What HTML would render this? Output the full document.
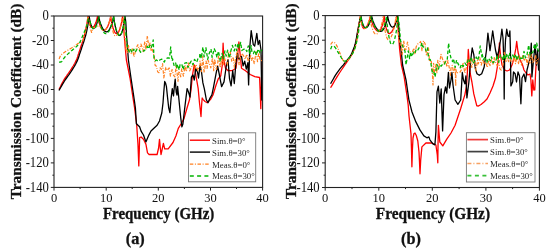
<!DOCTYPE html>
<html><head><meta charset="utf-8"><style>
html,body{margin:0;padding:0;background:#fff;}
svg{display:block;}
text{font-family:"Liberation Serif","Times New Roman",serif;fill:#111;}
.b{font-weight:bold;stroke:#111;stroke-width:0.3px;}
</style></head><body>
<svg width="550" height="251" viewBox="0 0 550 251">
<rect width="550" height="251" fill="#fff"/>

<clipPath id="ca"><rect x="54.0" y="16.0" width="208.60000000000002" height="171.4"/></clipPath>
<g clip-path="url(#ca)" fill="none" stroke-linejoin="round">
<polyline points="59.0,89.5 59.6,88.2 60.5,86.5 61.5,84.4 62.6,82.3 63.6,80.5 64.5,78.9 65.5,77.5 66.5,76.1 67.4,74.7 68.4,73.3 69.4,71.8 70.4,70.4 71.4,68.9 72.3,67.4 73.2,66.0 74.0,64.6 74.8,63.2 75.5,61.8 76.2,60.4 76.8,59.0 77.3,57.6 77.8,56.2 78.2,54.8 78.7,53.4 79.1,52.0 79.6,50.6 80.1,49.1 80.5,47.7 81.0,46.2 81.5,44.8 82.0,43.4 82.4,42.1 82.9,40.7 83.3,39.4 83.7,38.0 84.1,36.6 84.5,35.3 84.8,33.9 85.2,32.5 85.5,31.0 85.8,29.3 86.2,27.5 86.5,25.7 86.8,24.1 87.0,23.0 88.0,16.3 88.5,19.6 89.0,21.7 89.5,23.5 90.0,24.9 90.5,26.1 91.0,26.9 91.5,27.3 92.0,27.5 92.7,27.3 93.4,26.9 94.1,26.1 94.8,24.9 95.4,23.5 96.1,21.7 96.8,19.6 97.5,16.3 98.3,20.4 99.2,23.0 100.0,25.2 100.8,26.9 101.6,28.3 102.4,29.3 103.3,29.9 104.1,30.1 104.9,29.9 105.8,29.3 106.6,28.3 107.4,26.9 108.2,25.2 109.0,23.0 109.9,20.4 110.7,16.3 111.4,21.4 112.2,24.8 112.9,27.5 113.7,29.7 114.4,31.5 115.1,32.7 115.9,33.4 116.6,33.7 117.3,33.4 118.1,32.7 118.8,31.5 119.6,29.7 120.3,27.5 121.1,24.8 121.8,21.4 122.6,16.3 123.4,22.0 124.2,35.0 125.2,47.0 126.4,60.0 130.0,78.0 133.0,98.0 134.6,108.0 136.7,125.0 138.0,145.0 138.8,165.9 139.3,150.0 139.6,137.7 141.1,137.0 143.5,139.3 145.9,144.1 147.5,152.9 149.1,154.5 157.1,154.5 158.6,148.0 159.5,139.3 160.3,148.0 161.0,154.5 162.0,150.0 163.4,143.3 164.7,148.9 168.2,148.9 173.0,142.5 175.9,136.0 178.3,128.4 181.0,124.0 183.9,118.9 187.1,107.7 189.5,99.8 191.0,90.0 192.5,75.0 194.2,64.8 196.0,76.0 198.2,88.7 199.5,103.0 200.3,110.0 201.0,116.5 201.6,105.0 202.2,98.0 203.2,99.6 205.0,101.5 207.2,102.7 210.4,99.6 213.0,95.0 215.9,85.5 218.2,79.0 220.7,75.9 222.3,65.0 223.1,43.2 223.9,60.7 225.5,68.0 228.0,70.7 231.9,70.7 235.9,68.3 237.5,56.0 238.9,42.0 240.2,55.0 241.5,68.3 245.5,70.7 250.2,74.5 254.8,76.6 259.6,77.5 260.3,95.0 260.8,108.7 261.5,80.0 262.4,55.0" stroke="#ff0000" stroke-width="1.3"/>
<polyline points="59.0,90.5 59.7,89.2 60.7,87.5 61.9,85.4 63.1,83.3 64.2,81.5 65.2,79.9 66.2,78.5 67.2,77.1 68.2,75.7 69.2,74.3 70.2,72.8 71.2,71.4 72.2,69.9 73.1,68.4 74.0,67.0 74.8,65.6 75.6,64.2 76.3,62.8 77.0,61.4 77.6,60.0 78.2,58.6 78.6,57.2 79.1,55.8 79.5,54.4 80.0,53.0 80.5,51.6 81.0,50.1 81.5,48.7 81.9,47.2 82.4,45.8 82.9,44.4 83.3,43.1 83.8,41.7 84.2,40.4 84.6,39.0 85.0,37.6 85.4,36.3 85.8,35.0 86.1,33.5 86.5,32.0 86.9,30.2 87.3,28.1 87.7,26.0 88.0,24.3 88.2,23.0 89.2,16.3 89.7,19.8 90.2,22.1 90.7,24.0 91.2,25.6 91.8,26.7 92.3,27.6 92.8,28.1 93.3,28.3 94.0,28.1 94.7,27.6 95.3,26.7 96.0,25.6 96.7,24.0 97.3,22.1 98.0,19.8 98.7,16.3 99.7,20.9 100.7,23.9 101.6,26.3 102.6,28.3 103.6,29.9 104.5,31.0 105.5,31.7 106.5,31.9 107.4,31.7 108.3,31.0 109.2,29.9 110.0,28.3 110.9,26.3 111.8,23.9 112.7,20.9 113.6,16.3 114.3,21.9 115.1,25.6 115.8,28.7 116.6,31.1 117.3,33.0 118.1,34.4 118.8,35.2 119.6,35.5 120.3,35.2 120.9,34.4 121.6,33.0 122.3,31.1 123.0,28.7 123.7,25.6 124.3,21.9 125.0,16.3 125.8,22.0 126.5,35.0 127.5,48.0 128.4,60.0 131.0,78.0 134.3,100.0 135.4,108.0 136.4,123.7 139.6,126.8 141.1,131.1 143.5,135.0 145.9,141.9 148.0,137.0 149.1,134.6 151.0,131.0 153.9,128.2 157.1,125.3 159.5,121.0 161.8,113.0 163.0,103.0 163.8,92.0 164.7,81.5 165.5,83.0 166.4,86.3 167.5,97.0 168.7,107.8 169.9,112.6 171.1,98.3 172.3,88.7 173.5,95.9 174.5,85.0 175.2,79.2 176.2,92.0 177.0,95.0 177.6,86.3 178.5,95.0 180.7,117.3 181.9,126.9 182.9,124.0 184.5,110.0 187.1,88.6 188.5,92.0 190.0,97.1 191.4,77.1 193.0,75.0 194.3,80.0 195.7,68.6 197.5,72.0 198.5,78.0 200.0,65.7 201.5,72.0 202.9,82.9 204.3,88.6 206.4,100.0 208.0,102.7 210.0,98.0 211.9,94.8 213.6,86.7 216.0,73.9 217.6,66.0 219.2,73.9 221.6,86.7 224.0,81.9 226.3,66.0 228.0,59.6 229.5,78.7 231.1,85.9 232.7,70.7 234.3,83.5 235.9,62.7 237.5,53.2 239.1,59.6 241.5,56.4 243.1,65.9 244.7,61.2 246.3,69.1 247.9,62.7 248.6,84.9 249.8,47.3 251.2,30.6 253.3,44.6 254.7,46.0 256.8,33.4 258.2,44.6 259.6,40.4 261.0,50.0 261.8,100.0 262.4,70.0" stroke="#000" stroke-width="1.3"/>
<polyline points="59.0,59.1 59.3,58.5 59.6,57.7 60.0,56.7 60.6,55.8 61.2,54.9 62.0,54.1 62.9,53.4 63.9,52.7 64.9,52.0 66.0,51.3 67.1,50.6 68.3,49.9 69.5,49.2 70.7,48.5 71.9,47.8 73.1,47.0 74.4,46.1 75.6,45.2 76.8,44.4 77.9,43.6 79.0,43.0 80.0,42.5 81.0,42.0 81.9,41.4 82.7,40.6 83.3,39.5 83.8,38.2 84.2,36.7 84.6,35.1 85.0,33.5 85.5,31.6 85.9,29.4 86.4,27.2 86.7,25.3 87.0,24.0 88.0,17.2 89.2,20.0 90.2,28.0 91.6,32.5 93.0,28.0 99.7,25.5 100.5,27.3 101.4,28.8 102.2,29.8 103.0,30.4 103.8,30.6 104.6,30.4 105.5,29.8 106.3,28.8 107.2,27.3 108.0,25.5 108.8,23.3 109.7,20.5 110.5,16.3 111.1,22.1 111.7,25.9 112.3,29.0 113.0,31.5 113.6,33.5 114.2,34.9 114.8,35.7 115.4,36.0 116.3,35.7 117.2,34.9 118.1,33.5 119.0,31.5 119.8,29.0 120.7,25.9 121.6,22.1 122.5,16.3 123.5,20.0 124.2,28.0 125.0,40.0 126.0,50.0 126.0,47.0 127.3,52.6 128.5,44.9 129.7,52.6 131.4,53.5 132.4,48.3 134.0,56.9 135.3,51.8 137.0,46.4 137.9,44.7 139.5,50.5 140.9,44.0 142.2,47.5 143.2,51.7 144.8,41.5 146.0,49.8 147.3,35.9 148.8,46.5 150.0,43.0 151.3,51.4 152.1,48.5 154.3,56.6 155.1,65.2 156.4,66.2 157.6,71.7 159.0,72.7 160.1,67.8 161.4,69.4 162.6,63.7 163.8,77.9 165.8,67.3 167.2,70.3 169.2,68.0 170.4,76.1 172.1,69.5 173.5,75.1 174.9,76.9 176.2,65.0 178.0,81.3 179.0,71.1 180.7,76.8 181.7,68.9 183.4,76.1 185.1,65.6 186.3,71.6 188.3,62.0 189.8,70.8 191.1,67.9 193.1,64.3 194.5,69.9 196.0,64.5 197.8,70.6 198.7,68.0 200.0,66.0 200.0,61.0 201.4,71.7 202.8,56.3 204.1,72.7 206.1,61.0 207.1,68.4 208.1,60.3 209.6,64.5 210.8,67.9 212.5,57.8 213.7,70.6 214.6,59.2 216.4,69.3 217.4,66.5 218.4,56.0 220.3,67.7 221.7,57.8 223.1,65.5 224.5,57.8 225.7,62.6 227.4,64.9 228.6,52.3 230.2,51.2 231.7,61.1 233.2,56.9 234.4,67.5 235.9,56.2 237.5,51.1 239.1,64.7 240.7,56.0 242.0,53.5 243.4,55.6 245.3,59.3 246.7,54.3 248.3,61.3 249.0,60.5 250.7,55.5 251.6,60.5 252.8,56.9 254.2,63.7 256.2,51.8 257.5,61.6 258.8,52.8 259.8,59.0 261.3,60.6 262.6,58.0" stroke="#ff8020" stroke-width="1.2" stroke-dasharray="3.5 1.5 1 1.5"/>
<polyline points="59.0,62.1 59.4,62.1 59.9,62.1 60.5,62.0 61.2,61.9 61.8,61.5 62.3,60.9 62.9,60.1 63.4,59.2 64.0,58.2 64.7,57.3 65.5,56.4 66.5,55.4 67.5,54.4 68.5,53.4 69.5,52.5 70.5,51.6 71.4,50.8 72.4,50.1 73.3,49.3 74.3,48.4 75.3,47.5 76.3,46.7 77.3,45.8 78.2,44.8 79.1,43.6 79.9,42.2 80.7,40.6 81.4,38.9 82.1,37.2 82.8,35.5 83.6,33.7 84.4,31.8 85.2,29.9 85.9,28.2 86.4,27.1 88.3,19.0 89.8,20.0 90.3,22.5 90.9,24.5 91.5,26.1 92.1,27.4 92.7,28.3 93.2,28.8 93.8,29.0 94.4,28.8 95.0,28.3 95.6,27.4 96.2,26.1 96.9,24.5 97.5,22.5 98.1,20.0 98.7,16.3 99.6,21.4 100.5,24.8 101.4,27.5 102.3,29.7 103.2,31.5 104.1,32.7 105.0,33.4 105.9,33.7 106.9,33.4 107.8,32.7 108.8,31.5 109.8,29.7 110.7,27.5 111.7,24.8 112.6,21.4 113.6,16.3 114.4,21.9 115.1,25.6 115.9,28.7 116.7,31.1 117.5,33.0 118.2,34.4 119.0,35.2 119.8,35.5 120.4,35.2 121.0,34.4 121.6,33.0 122.2,31.1 122.8,28.7 123.4,25.6 124.0,21.9 124.6,16.3 125.3,25.0 126.1,37.0 127.0,45.0 127.8,48.9 127.6,48.8 129.4,51.9 130.6,49.6 132.1,52.7 133.8,49.2 135.2,52.2 137.1,49.2 139.1,49.6 140.5,52.3 142.5,50.3 143.9,51.2 146.0,48.7 147.4,46.3 148.6,49.0 150.0,45.1 151.3,47.4 152.5,44.0 153.2,40.0 154.0,58.1 154.2,58.6 155.2,60.8 156.5,59.9 158.1,61.5 159.8,60.0 161.3,59.2 162.9,59.4 164.3,62.1 165.7,59.0 167.6,57.9 169.5,58.0 170.7,47.0 171.5,56.0 172.3,61.0 172.6,58.9 174.0,65.4 175.7,63.0 176.6,68.3 177.7,64.5 179.2,69.9 180.1,64.3 181.8,64.1 183.2,69.7 184.8,63.2 186.6,62.6 188.0,67.4 189.5,63.8 191.2,61.1 193.0,64.7 194.5,59.3 196.7,62.3 198.0,58.5 199.6,58.0 199.9,53.3 201.3,58.4 202.9,47.0 204.1,56.8 205.9,47.7 207.7,59.3 209.0,54.1 211.0,49.1 212.1,57.3 214.2,48.7 215.8,52.1 216.9,57.5 218.5,51.1 220.3,61.5 222.0,53.3 223.4,58.7 224.9,50.8 226.2,56.0 227.6,50.2 229.4,58.0 230.8,51.2 232.4,45.4 234.2,51.0 235.5,44.7 236.6,50.7 238.1,43.2 239.0,47.9 240.7,42.3 241.8,50.5 243.7,49.3 245.4,48.5 246.8,51.5 248.3,45.8 249.7,54.5 251.2,45.6 252.0,52.8 253.4,53.6 254.9,50.2 256.3,55.2 258.2,48.9 260.1,53.2 261.5,50.2 262.6,51.0" stroke="#00b400" stroke-width="1.3" stroke-dasharray="3.5 2.2"/>
</g>
<rect x="54.0" y="16.0" width="208.6" height="171.4" fill="none" stroke="#222" stroke-width="1.1"/>
<line x1="50.8" y1="16.0" x2="54.0" y2="16.0" stroke="#222" stroke-width="1"/>
<text transform="translate(48.9,20.3) scale(1,1.08)" font-size="12.7" text-anchor="end">0</text>
<line x1="52.4" y1="28.2" x2="54.0" y2="28.2" stroke="#222" stroke-width="1"/>
<line x1="50.8" y1="40.5" x2="54.0" y2="40.5" stroke="#222" stroke-width="1"/>
<text transform="translate(48.9,44.8) scale(1,1.08)" font-size="12.7" text-anchor="end">-20</text>
<line x1="52.4" y1="52.7" x2="54.0" y2="52.7" stroke="#222" stroke-width="1"/>
<line x1="50.8" y1="65.0" x2="54.0" y2="65.0" stroke="#222" stroke-width="1"/>
<text transform="translate(48.9,69.3) scale(1,1.08)" font-size="12.7" text-anchor="end">-40</text>
<line x1="52.4" y1="77.2" x2="54.0" y2="77.2" stroke="#222" stroke-width="1"/>
<line x1="50.8" y1="89.5" x2="54.0" y2="89.5" stroke="#222" stroke-width="1"/>
<text transform="translate(48.9,93.8) scale(1,1.08)" font-size="12.7" text-anchor="end">-60</text>
<line x1="52.4" y1="101.7" x2="54.0" y2="101.7" stroke="#222" stroke-width="1"/>
<line x1="50.8" y1="113.9" x2="54.0" y2="113.9" stroke="#222" stroke-width="1"/>
<text transform="translate(48.9,118.2) scale(1,1.08)" font-size="12.7" text-anchor="end">-80</text>
<line x1="52.4" y1="126.2" x2="54.0" y2="126.2" stroke="#222" stroke-width="1"/>
<line x1="50.8" y1="138.4" x2="54.0" y2="138.4" stroke="#222" stroke-width="1"/>
<text transform="translate(48.9,142.7) scale(1,1.08)" font-size="12.7" text-anchor="end">-100</text>
<line x1="52.4" y1="150.7" x2="54.0" y2="150.7" stroke="#222" stroke-width="1"/>
<line x1="50.8" y1="162.9" x2="54.0" y2="162.9" stroke="#222" stroke-width="1"/>
<text transform="translate(48.9,167.2) scale(1,1.08)" font-size="12.7" text-anchor="end">-120</text>
<line x1="52.4" y1="175.2" x2="54.0" y2="175.2" stroke="#222" stroke-width="1"/>
<line x1="50.8" y1="187.4" x2="54.0" y2="187.4" stroke="#222" stroke-width="1"/>
<text transform="translate(48.9,191.7) scale(1,1.08)" font-size="12.7" text-anchor="end">-140</text>
<line x1="54.0" y1="187.4" x2="54.0" y2="190.6" stroke="#222" stroke-width="1"/>
<text transform="translate(54.0,201.9) scale(1,1.08)" font-size="12.5" text-anchor="middle">0</text>
<line x1="80.1" y1="187.4" x2="80.1" y2="189.0" stroke="#222" stroke-width="1"/>
<line x1="106.2" y1="187.4" x2="106.2" y2="190.6" stroke="#222" stroke-width="1"/>
<text transform="translate(106.2,201.9) scale(1,1.08)" font-size="12.5" text-anchor="middle">10</text>
<line x1="132.2" y1="187.4" x2="132.2" y2="189.0" stroke="#222" stroke-width="1"/>
<line x1="158.3" y1="187.4" x2="158.3" y2="190.6" stroke="#222" stroke-width="1"/>
<text transform="translate(158.3,201.9) scale(1,1.08)" font-size="12.5" text-anchor="middle">20</text>
<line x1="184.4" y1="187.4" x2="184.4" y2="189.0" stroke="#222" stroke-width="1"/>
<line x1="210.5" y1="187.4" x2="210.5" y2="190.6" stroke="#222" stroke-width="1"/>
<text transform="translate(210.5,201.9) scale(1,1.08)" font-size="12.5" text-anchor="middle">30</text>
<line x1="236.5" y1="187.4" x2="236.5" y2="189.0" stroke="#222" stroke-width="1"/>
<line x1="262.6" y1="187.4" x2="262.6" y2="190.6" stroke="#222" stroke-width="1"/>
<text transform="translate(262.6,201.9) scale(1,1.08)" font-size="12.5" text-anchor="middle">40</text>
<clipPath id="cb"><rect x="325.2" y="15.6" width="214.2" height="171.9"/></clipPath>
<g clip-path="url(#cb)" fill="none" stroke-linejoin="round">
<polyline points="330.6,87.8 331.4,86.3 332.6,84.3 334.0,81.9 335.5,79.3 337.0,76.9 338.5,74.5 340.1,72.0 341.8,69.5 343.4,67.1 344.9,64.9 346.3,62.9 347.5,61.2 348.7,59.5 349.9,57.8 350.9,56.0 351.9,54.0 352.7,52.0 353.5,49.9 354.3,47.9 354.9,46.0 355.4,44.4 355.8,43.0 356.1,41.6 356.5,40.1 356.8,38.3 357.2,36.0 357.6,33.2 358.0,30.4 358.4,28.0 358.6,26.3 360.4,16.3 360.8,19.9 361.3,22.3 361.8,24.2 362.2,25.8 362.6,27.0 363.1,27.9 363.6,28.4 364.0,28.6 364.8,28.4 365.6,27.9 366.4,27.0 367.1,25.8 367.9,24.2 368.7,22.3 369.5,19.9 370.3,16.3 371.4,20.7 372.4,23.6 373.4,26.0 374.5,27.9 375.6,29.4 376.6,30.5 377.6,31.2 378.7,31.4 379.4,31.2 380.1,30.5 380.8,29.4 381.4,27.9 382.1,26.0 382.8,23.6 383.5,20.7 384.2,16.3 384.8,21.3 385.4,24.7 386.0,27.4 386.6,29.6 387.3,31.3 387.9,32.5 388.5,33.3 389.1,33.5 390.1,33.3 391.0,32.5 392.0,31.3 393.0,29.6 393.9,27.4 394.9,24.7 395.8,21.3 396.8,16.3 397.8,25.0 398.8,38.0 399.6,49.0 401.4,65.0 404.0,76.0 407.0,95.9 408.2,105.0 409.0,116.0 410.0,125.0 411.0,133.9 411.5,150.0 411.9,166.8 412.4,150.0 413.0,138.0 414.0,133.5 415.0,133.0 416.3,135.5 417.8,141.0 419.0,152.0 419.5,162.0 420.0,173.8 420.7,160.0 421.9,146.9 425.9,143.0 431.9,143.0 435.9,145.0 437.3,155.0 437.8,162.8 438.1,140.0 438.4,125.3 439.8,142.0 442.8,145.9 446.8,139.2 451.0,133.0 455.1,125.3 460.7,108.5 464.9,94.6 466.5,86.0 467.5,70.0 468.3,49.5 469.2,62.0 470.3,74.0 471.9,82.0 473.8,93.9 476.8,105.9 478.5,106.0 481.0,104.5 484.0,102.0 487.0,99.0 490.0,93.0 493.0,86.0 495.5,78.0 497.5,66.0 498.7,55.0 499.4,43.0 500.5,55.0 502.0,65.0 504.8,70.0 507.0,71.0 509.6,70.0 512.0,65.0 514.0,58.0 515.9,48.2 516.7,41.5 518.0,52.0 520.0,60.0 522.3,64.1 524.0,70.0 526.0,73.0 528.0,75.0 530.0,74.0 530.9,80.0 531.8,95.9 532.8,80.0 533.8,90.0 534.8,89.9 535.5,75.0 536.7,54.6 538.0,60.0 539.4,58.0" stroke="#ff0000" stroke-width="1.3"/>
<polyline points="330.6,83.8 331.4,82.3 332.6,80.2 334.0,77.7 335.5,75.2 337.0,72.9 338.5,70.8 340.1,68.7 341.8,66.7 343.4,64.8 344.9,62.9 346.3,61.2 347.5,59.7 348.7,58.2 349.9,56.7 350.9,55.0 351.9,53.1 352.7,51.1 353.5,49.0 354.3,47.0 354.9,45.0 355.4,43.2 355.8,41.4 356.1,39.6 356.5,37.8 356.8,36.0 357.2,34.0 357.5,31.9 357.9,29.8 358.3,27.8 358.6,26.0 358.9,24.3 359.3,22.6 359.6,21.2 359.8,19.9 360.0,19.0 361.0,16.3 361.6,19.7 362.1,21.9 362.6,23.8 363.2,25.2 363.8,26.4 364.3,27.2 364.8,27.7 365.4,27.9 366.2,27.7 367.0,27.2 367.8,26.4 368.5,25.2 369.3,23.8 370.1,21.9 370.9,19.7 371.7,16.3 372.8,20.7 374.0,23.6 375.1,26.0 376.2,27.9 377.4,29.4 378.5,30.5 379.7,31.2 380.8,31.4 381.7,31.2 382.5,30.5 383.4,29.4 384.2,27.9 385.1,26.0 386.0,23.6 386.8,20.7 387.7,16.3 388.3,19.5 388.9,21.6 389.5,23.3 390.1,24.7 390.8,25.8 391.4,26.6 392.0,27.0 392.6,27.2 393.2,27.0 393.8,26.6 394.4,25.8 395.1,24.7 395.7,23.3 396.3,21.6 396.9,19.5 397.5,16.3 398.7,26.3 399.9,42.0 401.0,49.0 402.6,65.0 406.0,79.9 408.9,99.8 412.0,112.0 415.9,121.9 419.9,129.9 423.9,135.9 426.9,137.8 428.9,136.9 429.9,139.8 432.9,143.8 434.9,144.8 435.9,131.9 437.0,91.8 438.4,86.2 439.8,103.0 441.2,89.0 442.6,130.9 444.0,94.6 445.5,87.0 446.8,93.0 448.4,72.5 449.5,88.0 451.0,80.0 451.9,72.5 453.0,85.0 455.1,100.0 457.9,104.3 460.7,100.0 461.6,85.0 462.3,72.5 463.5,80.0 464.9,83.9 465.9,76.0 466.9,97.9 468.9,82.0 470.5,62.0 472.2,48.0 473.8,54.6 475.4,68.9 477.0,73.7 479.3,75.3 481.7,73.7 484.1,67.3 486.5,50.0 487.9,33.2 489.0,42.0 490.0,50.7 491.5,40.0 492.7,30.8 494.0,40.0 495.5,50.0 497.1,57.0 499.0,50.0 500.8,38.0 501.9,29.2 503.0,38.0 503.8,60.0 504.2,99.0 504.6,60.0 505.5,40.0 506.7,29.2 508.0,36.0 509.1,36.3 509.9,31.0 510.4,50.0 510.9,85.9 512.7,81.7 513.5,72.0 515.1,73.7 516.5,82.0 518.0,72.0 519.5,76.0 520.9,103.8 522.0,78.0 524.0,74.0 525.5,81.7 527.0,70.0 528.5,64.0 530.3,57.7 531.3,43.1 531.9,76.9 533.5,60.0 535.1,44.7 536.5,65.0 537.5,50.0 538.6,70.0 539.4,65.0" stroke="#000" stroke-width="1.3"/>
<polyline points="330.6,44.5 330.9,44.1 331.4,43.4 331.9,42.8 332.4,42.2 333.0,42.0 333.6,42.1 334.2,42.4 334.8,42.9 335.5,43.6 336.1,44.5 336.7,45.6 337.4,46.9 338.0,48.4 338.6,50.0 339.3,51.6 340.0,53.3 340.8,55.2 341.6,57.0 342.3,58.7 342.9,60.0 343.4,60.9 343.8,61.4 344.2,61.7 344.5,61.9 344.9,62.0 345.3,62.0 345.7,61.9 346.1,61.6 346.5,61.3 346.9,61.0 347.3,60.7 347.6,60.5 348.0,60.1 348.4,59.7 348.9,59.0 349.6,58.1 350.4,57.0 351.3,55.7 352.1,54.4 352.9,53.0 353.6,51.5 354.2,50.0 354.8,48.4 355.4,46.7 355.9,45.0 356.3,43.3 356.6,41.6 356.9,39.8 357.2,37.9 357.5,36.0 357.8,33.8 358.2,31.2 358.5,28.7 358.8,26.5 359.0,25.0 360.2,16.3 360.7,19.9 361.3,22.2 361.8,24.2 362.4,25.7 362.9,26.9 363.4,27.8 364.0,28.3 364.5,28.5 365.2,28.3 365.8,27.8 366.5,26.9 367.1,25.7 367.8,24.2 368.5,22.2 369.1,19.9 369.8,16.3 370.6,21.6 371.3,25.0 372.1,27.8 372.9,30.1 373.6,31.9 374.4,33.2 375.1,33.9 375.9,34.2 376.8,33.9 377.8,33.2 378.7,31.9 379.6,30.1 380.5,27.8 381.4,25.0 382.4,21.6 383.3,16.3 383.9,23.2 384.6,27.7 385.2,31.4 385.9,34.4 386.5,36.8 387.1,38.4 387.8,39.5 388.4,39.8 389.3,39.5 390.3,38.4 391.2,36.8 392.2,34.4 393.1,31.4 394.1,27.7 395.1,23.2 396.0,16.3 397.5,25.0 399.0,40.0 401.0,46.0 401.1,42.8 402.1,55.2 403.7,40.5 404.8,49.7 406.1,49.1 407.5,42.2 409.4,51.8 410.8,51.8 412.7,51.3 414.0,48.0 414.9,53.7 416.2,46.7 417.5,44.1 419.1,43.4 420.6,41.5 422.0,50.7 423.5,40.7 425.1,43.8 426.5,56.0 428.5,47.8 429.5,61.5 431.3,61.3 432.5,75.2 433.0,85.0 433.6,63.3 434.6,72.2 436.0,64.3 436.9,73.3 437.8,60.4 439.2,65.9 441.0,54.4 442.6,59.2 444.0,63.9 445.9,60.0 446.8,66.9 447.9,60.5 449.7,70.0 450.5,75.3 451.0,68.2 452.3,65.3 453.5,72.5 455.2,67.5 455.7,86.2 456.0,69.7 456.5,73.1 458.4,72.4 460.1,72.1 461.4,69.8 463.1,63.3 464.8,73.0 466.4,67.3 467.6,57.9 469.3,65.1 470.7,60.3 471.8,67.4 473.5,58.4 474.4,58.5 475.9,71.0 477.5,60.4 478.4,63.8 479.8,57.6 481.3,65.1 482.7,59.5 484.4,64.2 485.6,62.1 487.3,67.4 488.6,60.3 490.0,65.6 491.2,59.5 493.1,65.1 494.1,57.1 495.8,63.0 497.3,66.0 498.3,60.2 499.8,68.7 501.2,70.0 503.1,64.6 504.3,51.5 506.0,61.5 507.3,58.1 508.6,61.6 509.9,57.5 511.4,62.6 512.7,62.6 514.3,55.7 515.5,63.7 517.2,55.7 518.4,64.1 519.8,56.6 521.6,65.1 522.7,54.9 524.2,60.2 525.9,57.1 527.2,64.7 528.6,54.5 529.9,63.1 531.2,53.7 533.0,63.1 533.9,60.7 535.6,55.0 536.7,63.8 538.3,58.0 539.4,59.0" stroke="#ff8020" stroke-width="1.2" stroke-dasharray="3.5 1.5 1 1.5"/>
<polyline points="330.6,49.2 330.8,48.7 331.1,48.0 331.4,47.1 331.8,46.4 332.2,46.0 332.6,45.8 333.1,45.8 333.6,46.0 334.1,46.3 334.6,46.8 335.2,47.5 335.8,48.4 336.4,49.4 337.1,50.5 337.7,51.6 338.3,52.7 339.0,53.8 339.6,54.9 340.3,56.0 340.9,57.0 341.5,58.0 342.1,58.9 342.7,59.8 343.3,60.5 343.9,61.0 344.5,61.2 345.1,61.1 345.6,60.9 346.2,60.5 346.9,60.0 347.6,59.4 348.4,58.7 349.3,57.9 350.1,57.0 350.9,56.0 351.7,54.9 352.4,53.8 353.1,52.6 353.8,51.2 354.5,49.5 355.2,47.5 355.8,45.3 356.4,42.9 357.0,40.5 357.5,38.0 358.0,35.3 358.5,32.3 358.9,29.3 359.2,26.8 359.5,25.0 360.8,16.3 361.4,19.6 361.9,21.7 362.5,23.5 363.1,24.9 363.7,26.1 364.2,26.9 364.8,27.3 365.4,27.5 366.1,27.3 366.9,26.9 367.6,26.1 368.4,24.9 369.1,23.5 369.8,21.7 370.6,19.6 371.3,16.3 372.4,20.8 373.5,23.7 374.6,26.1 375.6,28.0 376.7,29.5 377.8,30.6 378.9,31.3 380.0,31.5 380.8,31.3 381.6,30.6 382.4,29.5 383.2,28.0 384.1,26.1 384.9,23.7 385.7,20.8 386.5,16.3 387.2,24.6 387.9,30.1 388.5,34.5 389.2,38.1 389.9,40.9 390.5,43.0 391.2,44.2 391.9,44.6 392.7,44.2 393.4,43.0 394.2,40.9 394.9,38.1 395.7,34.5 396.5,30.1 397.2,24.6 398.0,16.3 399.2,25.0 400.6,40.9 403.8,48.9 405.0,51.0 406.0,64.9 408.0,53.0 408.3,50.9 409.6,58.7 410.6,51.8 411.7,56.7 413.7,52.0 415.1,53.3 416.3,48.7 417.9,49.8 419.2,47.6 420.9,47.0 421.8,42.8 423.0,47.0 424.9,46.9 426.1,51.1 427.5,47.9 428.7,58.9 430.3,59.6 432.3,72.2 433.6,71.2 435.1,77.0 436.8,64.3 438.5,69.1 439.4,64.9 441.2,66.2 442.5,64.3 444.3,64.8 445.9,60.2 447.3,59.1 448.6,43.2 449.7,52.7 451.0,58.2 452.5,61.6 453.5,58.7 455.1,67.4 456.6,60.2 457.9,63.4 460.2,67.8 461.5,64.0 463.0,66.6 464.9,63.0 466.5,65.4 468.2,59.5 469.4,61.4 471.2,57.2 472.8,63.5 474.5,61.4 476.3,57.0 477.6,60.3 479.0,56.0 480.2,46.0 482.0,57.0 482.1,53.7 483.4,59.9 485.2,56.5 486.6,63.0 488.6,58.1 490.3,60.9 491.5,56.8 492.9,62.7 494.0,61.9 496.0,61.3 497.0,55.2 498.7,62.3 500.3,54.8 501.2,55.4 503.1,60.2 504.1,54.3 505.7,59.3 506.9,53.5 508.9,58.3 509.7,53.4 511.4,58.8 512.8,54.9 514.0,58.6 515.9,54.4 516.9,60.3 518.6,56.0 519.7,58.9 521.1,57.9 522.8,59.7 524.0,51.4 525.4,57.9 527.0,55.0 528.7,45.0 530.0,55.0 533.0,52.0 534.5,44.0 535.5,50.0 536.7,43.1 538.0,50.0 539.4,52.0" stroke="#00b400" stroke-width="1.3" stroke-dasharray="3.5 2.2"/>
</g>
<rect x="325.2" y="15.6" width="214.2" height="171.9" fill="none" stroke="#222" stroke-width="1.1"/>
<line x1="322.0" y1="15.6" x2="325.2" y2="15.6" stroke="#222" stroke-width="1"/>
<text transform="translate(319.7,19.9) scale(1,1.08)" font-size="12.7" text-anchor="end">0</text>
<line x1="323.6" y1="27.9" x2="325.2" y2="27.9" stroke="#222" stroke-width="1"/>
<line x1="322.0" y1="40.2" x2="325.2" y2="40.2" stroke="#222" stroke-width="1"/>
<text transform="translate(319.7,44.5) scale(1,1.08)" font-size="12.7" text-anchor="end">-20</text>
<line x1="323.6" y1="52.4" x2="325.2" y2="52.4" stroke="#222" stroke-width="1"/>
<line x1="322.0" y1="64.7" x2="325.2" y2="64.7" stroke="#222" stroke-width="1"/>
<text transform="translate(319.7,69.0) scale(1,1.08)" font-size="12.7" text-anchor="end">-40</text>
<line x1="323.6" y1="77.0" x2="325.2" y2="77.0" stroke="#222" stroke-width="1"/>
<line x1="322.0" y1="89.3" x2="325.2" y2="89.3" stroke="#222" stroke-width="1"/>
<text transform="translate(319.7,93.6) scale(1,1.08)" font-size="12.7" text-anchor="end">-60</text>
<line x1="323.6" y1="101.5" x2="325.2" y2="101.5" stroke="#222" stroke-width="1"/>
<line x1="322.0" y1="113.8" x2="325.2" y2="113.8" stroke="#222" stroke-width="1"/>
<text transform="translate(319.7,118.1) scale(1,1.08)" font-size="12.7" text-anchor="end">-80</text>
<line x1="323.6" y1="126.1" x2="325.2" y2="126.1" stroke="#222" stroke-width="1"/>
<line x1="322.0" y1="138.4" x2="325.2" y2="138.4" stroke="#222" stroke-width="1"/>
<text transform="translate(319.7,142.7) scale(1,1.08)" font-size="12.7" text-anchor="end">-100</text>
<line x1="323.6" y1="150.7" x2="325.2" y2="150.7" stroke="#222" stroke-width="1"/>
<line x1="322.0" y1="162.9" x2="325.2" y2="162.9" stroke="#222" stroke-width="1"/>
<text transform="translate(319.7,167.2) scale(1,1.08)" font-size="12.7" text-anchor="end">-120</text>
<line x1="323.6" y1="175.2" x2="325.2" y2="175.2" stroke="#222" stroke-width="1"/>
<line x1="322.0" y1="187.5" x2="325.2" y2="187.5" stroke="#222" stroke-width="1"/>
<text transform="translate(319.7,191.8) scale(1,1.08)" font-size="12.7" text-anchor="end">-140</text>
<line x1="325.2" y1="187.5" x2="325.2" y2="190.7" stroke="#222" stroke-width="1"/>
<text transform="translate(325.2,201.9) scale(1,1.08)" font-size="12.5" text-anchor="middle">0</text>
<line x1="352.0" y1="187.5" x2="352.0" y2="189.1" stroke="#222" stroke-width="1"/>
<line x1="378.8" y1="187.5" x2="378.8" y2="190.7" stroke="#222" stroke-width="1"/>
<text transform="translate(378.8,201.9) scale(1,1.08)" font-size="12.5" text-anchor="middle">10</text>
<line x1="405.5" y1="187.5" x2="405.5" y2="189.1" stroke="#222" stroke-width="1"/>
<line x1="432.3" y1="187.5" x2="432.3" y2="190.7" stroke="#222" stroke-width="1"/>
<text transform="translate(432.3,201.9) scale(1,1.08)" font-size="12.5" text-anchor="middle">20</text>
<line x1="459.1" y1="187.5" x2="459.1" y2="189.1" stroke="#222" stroke-width="1"/>
<line x1="485.9" y1="187.5" x2="485.9" y2="190.7" stroke="#222" stroke-width="1"/>
<text transform="translate(485.9,201.9) scale(1,1.08)" font-size="12.5" text-anchor="middle">30</text>
<line x1="512.6" y1="187.5" x2="512.6" y2="189.1" stroke="#222" stroke-width="1"/>
<line x1="539.4" y1="187.5" x2="539.4" y2="190.7" stroke="#222" stroke-width="1"/>
<text transform="translate(539.4,201.9) scale(1,1.08)" font-size="12.5" text-anchor="middle">40</text>
<text class="b" font-size="15.35" text-anchor="middle" transform="translate(20.8,101.45) rotate(-90) scale(1,0.98)">Transmission Coefficient (dB)</text>
<text class="b" font-size="15.35" text-anchor="middle" transform="translate(295.8,101.2) rotate(-90)">Transmission Coefficient (dB)</text>
<text class="b" font-size="14.95" text-anchor="middle" transform="translate(158.6,219.2) scale(1,1.08)">Frequency (GHz)</text>
<text class="b" font-size="15.35" text-anchor="middle" transform="translate(432.9,219.0) scale(1,1.06)">Frequency (GHz)</text>
<text class="b" font-size="16.3" text-anchor="middle" transform="translate(135.3,244.2) scale(1,1.06)">(a)</text>
<text class="b" font-size="16.3" text-anchor="middle" transform="translate(411,244.2) scale(1,1.06)">(b)</text>
<rect x="188.5" y="132.8" width="67.2" height="49.0" fill="#fff" stroke="#777" stroke-width="0.9"/>
<line x1="189.8" y1="140.2" x2="210" y2="140.2" stroke="#ff0000" stroke-width="1.4"/>
<text x="212" y="143.6" font-size="8.8" style="fill:#2a2a2a">Sim.θ=0°</text>
<line x1="189.8" y1="152.1" x2="210" y2="152.1" stroke="#000" stroke-width="1.4"/>
<text x="212" y="155.5" font-size="8.8" style="fill:#2a2a2a">Sim.θ=30°</text>
<line x1="189.8" y1="164.1" x2="210" y2="164.1" stroke="#ff8020" stroke-width="1.3" stroke-dasharray="3.5 1.6 1 1.6"/>
<text x="212" y="167.5" font-size="8.8" style="fill:#2a2a2a">Meas.θ=0°</text>
<line x1="189.8" y1="176.0" x2="210" y2="176.0" stroke="#00b400" stroke-width="1.4" stroke-dasharray="4 3.3"/>
<text x="212" y="179.4" font-size="8.8" style="fill:#2a2a2a">Meas.θ=30°</text>
<rect x="466.4" y="132.7" width="68.6" height="49.3" fill="#fff" stroke="#777" stroke-width="0.9"/>
<line x1="467.4" y1="139.6" x2="488" y2="139.6" stroke="#f03838" stroke-width="1.7"/>
<text x="490" y="143" font-size="8.8" style="fill:#2a2a2a">Sim.θ=0°</text>
<line x1="467.4" y1="151.6" x2="488" y2="151.6" stroke="#404040" stroke-width="1.7"/>
<text x="490" y="155" font-size="8.8" style="fill:#2a2a2a">Sim.θ=30°</text>
<line x1="467.4" y1="163.6" x2="488" y2="163.6" stroke="#f7a060" stroke-width="1.5" stroke-dasharray="4 2 1 2"/>
<text x="490" y="167" font-size="8.8" style="fill:#2a2a2a">Meas.θ=0°</text>
<line x1="467.4" y1="175.6" x2="488" y2="175.6" stroke="#38c038" stroke-width="1.6" stroke-dasharray="4 3.5"/>
<text x="490" y="179" font-size="8.8" style="fill:#2a2a2a">Meas.θ=30°</text>
</svg></body></html>
